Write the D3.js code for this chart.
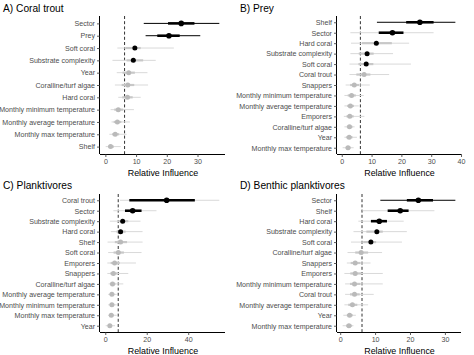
<!DOCTYPE html>
<html><head><meta charset="utf-8">
<script src="https://cdn.jsdelivr.net/npm/d3@7"></script>
<style>
html,body{margin:0;padding:0;background:#fff;}
svg{display:block;font-family:"Liberation Sans",Arial,Helvetica,sans-serif;}
</style></head>
<body><svg id="chart" width="474" height="355"></svg>
<script>
const threshold = 6.25;

// significance level: 3 = outer+inner+point black, 2 = inner+point black, 1 = point black, 0 = grey

// A) Coral trout
const aTitle = "A) Coral trout";
const aVars = ["Sector","Prey","Soft coral","Substrate complexity","Year","Coralline/turf algae","Hard coral","Monthly minimum temperature","Monthly average temperature","Monthly max temperature","Shelf"];
const aMed  = [24.7,20.7,9.6,9.1,7.6,7.3,7.2,4.2,3.9,3.2,1.7];
const aLo95 = [12.5,13.1,3.9,2.3,3.7,3.1,4.2,1.7,2.0,1.3,0.1];
const aHi95 = [37.1,30.9,22.3,16.4,13.7,13.9,11.5,9.3,8.0,6.9,5.0];
const aLo50 = [20.4,16.9,6.5,6.9,5.6,5.3,5.5,2.9,2.7,2.2,0.9];
const aHi50 = [29.0,24.2,11.5,12.3,9.6,9.4,8.9,5.8,5.2,4.5,2.8];
const aSig  = [3,3,1,1,0,0,0,0,0,0,0];
const aTicks = [0,10,20,30];

// B) Prey
const bTitle = "B) Prey";
const bVars = ["Shelf","Sector","Hard coral","Substrate complexity","Soft coral","Coral trout","Snappers","Monthly minimum temperature","Monthly average temperature","Emporers","Coralline/turf algae","Year","Monthly max temperature"];
const bMed  = [26.2,17.0,11.6,8.5,8.2,7.5,4.2,3.3,2.9,2.7,2.6,2.5,2.1];
const bLo95 = [11.8,2.9,3.1,2.9,2.6,2.6,1.3,0.9,0.9,0.7,0.9,0.9,0.3];
const bHi95 = [38.1,30.8,22.6,17.2,23.2,15.9,9.4,7.4,5.7,7.6,4.3,5.1,4.0];
const bLo50 = [21.6,12.4,6.8,5.7,5.6,4.9,2.8,2.0,1.8,1.6,1.7,1.5,1.3];
const bHi50 = [30.8,20.7,16.8,10.7,10.6,9.6,5.8,4.7,4.1,4.0,3.6,3.6,3.0];
const bSig  = [3,2,1,1,1,0,0,0,0,0,0,0,0];
const bTicks = [0,10,20,30,40];

// C) Planktivores
const cTitle = "C) Planktivores";
const cVars = ["Coral trout","Sector","Substrate complexity","Hard coral","Shelf","Soft coral","Emporers","Snappers","Coralline/turf algae","Monthly average temperature","Monthly minimum temperature","Monthly max temperature","Year"];
const cMed  = [29.6,13.2,8.4,7.4,7.4,6.3,4.5,3.9,3.5,3.2,3.2,2.9,2.2];
const cLo95 = [7.1,3.9,2.2,2.7,1.1,1.4,1.0,1.0,1.6,1.4,1.4,1.3,0.2];
const cHi95 = [55.0,24.7,17.0,18.0,18.0,17.5,14.8,11.1,8.7,5.5,5.5,5.5,4.7];
const cLo50 = [11.6,9.5,6.3,5.4,4.6,4.0,2.6,2.4,2.4,2.2,2.2,2.0,1.3];
const cHi50 = [43.2,17.5,11.1,9.8,10.5,9.0,7.0,5.8,4.9,4.3,4.3,4.0,3.3];
const cSig  = [2,2,1,1,0,0,0,0,0,0,0,0,0];
const cTicks = [0,20,40];

// D) Benthic planktivores
const dTitle = "D) Benthic planktivores";
const dVars = ["Sector","Shelf","Hard coral","Substrate complexity","Soft coral","Coralline/turf algae","Snappers","Emporers","Monthly minimum temperature","Coral trout","Monthly average temperature","Year","Monthly max temperature"];
const dMed  = [22.4,17.2,11.2,10.5,8.8,6.0,4.3,4.3,4.1,4.1,3.5,2.7,2.5];
const dLo95 = [11.5,6.4,5.2,3.8,3.1,2.1,1.9,1.2,1.4,1.4,1.2,0.9,0.7];
const dHi95 = [33.0,27.0,18.2,19.1,17.7,12.0,8.7,12.2,12.2,9.6,8.0,4.5,3.8];
const dLo50 = [19.1,13.6,8.8,7.5,6.6,4.3,3.0,2.9,2.8,2.8,2.3,1.9,1.7];
const dHi50 = [26.6,19.6,13.4,12.2,10.3,8.0,5.8,6.0,5.8,5.6,4.9,3.6,3.4];
const dSig  = [3,2,2,1,1,0,0,0,0,0,0,0,0];
const dTicks = [0,10,20,30];

const xTitle = "Relative Influence";

const panels = [
  {title:aTitle, vars:aVars, med:aMed, lo95:aLo95, hi95:aHi95, lo50:aLo50, hi50:aHi50, sig:aSig, ticks:aTicks, x0:100, x1:225, y0:16, y1:154, tx:3, ty:12},
  {title:bTitle, vars:bVars, med:bMed, lo95:bLo95, hi95:bHi95, lo50:bLo50, hi50:bHi50, sig:bSig, ticks:bTicks, x0:337, x1:461, y0:16, y1:154, tx:240, ty:12},
  {title:cTitle, vars:cVars, med:cMed, lo95:cLo95, hi95:cHi95, lo50:cLo50, hi50:cHi50, sig:cSig, ticks:cTicks, x0:100, x1:225, y0:194, y1:332, tx:3, ty:189},
  {title:dTitle, vars:dVars, med:dMed, lo95:dLo95, hi95:dHi95, lo50:dLo50, hi50:dHi50, sig:dSig, ticks:dTicks, x0:337, x1:461, y0:194, y1:332, tx:240, ty:189}
];

const svg = d3.select("#chart");
const BLACK = "#000000", OUTER_GREY = "#d9d9d9", INNER_GREY = "#c8c8c8", POINT_GREY = "#bababa";

panels.forEach(p => {
  const rows = p.vars.map((v,i)=>({v, med:p.med[i], lo95:p.lo95[i], hi95:p.hi95[i], lo50:p.lo50[i], hi50:p.hi50[i], sig:p.sig[i]}));
  const mn = d3.min(p.lo95), mx = d3.max(p.hi95), r = mx - mn;
  const x = d3.scaleLinear().domain([mn - 0.05*r, mx + 0.05*r]).range([p.x0, p.x1]);
  const y = d3.scalePoint().domain(p.vars).range([p.y0, p.y1]).padding(0.6);

  const g = svg.append("g");

  g.append("text").attr("x", p.tx).attr("y", p.ty).attr("font-size", 10.2).attr("fill", "#000").text(p.title);

  g.append("line").attr("x1", x(threshold)).attr("x2", x(threshold)).attr("y1", p.y0).attr("y2", p.y1)
    .attr("stroke", "#333").attr("stroke-width", 1).attr("stroke-dasharray", "3,2.2");

  g.selectAll("line.outer").data(rows).join("line").attr("class","outer")
    .attr("x1", d=>x(d.lo95)).attr("x2", d=>x(d.hi95)).attr("y1", d=>y(d.v)).attr("y2", d=>y(d.v))
    .attr("stroke", d=> d.sig>=3 ? BLACK : OUTER_GREY).attr("stroke-width", 1);
  g.selectAll("line.inner").data(rows).join("line").attr("class","inner")
    .attr("x1", d=>x(d.lo50)).attr("x2", d=>x(d.hi50)).attr("y1", d=>y(d.v)).attr("y2", d=>y(d.v))
    .attr("stroke", d=> d.sig>=2 ? BLACK : INNER_GREY).attr("stroke-width", d=> d.sig>=2 ? 2.6 : 2.2);
  g.selectAll("circle").data(rows).join("circle")
    .attr("cx", d=>x(d.med)).attr("cy", d=>y(d.v)).attr("r", d=> d.sig>=2 ? 2.8 : 2.5)
    .attr("fill", d=> d.sig>=1 ? BLACK : POINT_GREY);

  const xAxis = d3.axisBottom(x).tickValues(p.ticks).tickSize(3).tickSizeOuter(0).tickPadding(2);
  const gx = g.append("g").attr("transform", `translate(0,${p.y1})`).call(xAxis);
  const yAxis = d3.axisLeft(y).tickSize(3).tickSizeOuter(0).tickPadding(2);
  const gy = g.append("g").attr("transform", `translate(${p.x0},0)`).call(yAxis);
  [gx, gy].forEach(a => {
    a.select(".domain").attr("stroke", "#000").attr("stroke-width", 1);
    a.selectAll(".tick line").attr("stroke", "#333").attr("stroke-width", 0.8);
    a.selectAll(".tick text").attr("fill", "#4d4d4d").attr("font-size", 7.1)
      .attr("font-family", "Liberation Sans,Arial,sans-serif");
  });
  gx.select(".domain").attr("d", `M${p.x0},0.5H${p.x1}`);
  gy.select(".domain").attr("d", `M-0.5,${p.y0}V${p.y1}`);

  g.append("text").attr("x", (p.x0 + p.x1)/2 + 0.5).attr("y", p.y1 + 22).attr("text-anchor", "middle")
    .attr("font-size", 8.9).attr("fill", "#000").text(xTitle);
});
</script>
</body></html>
